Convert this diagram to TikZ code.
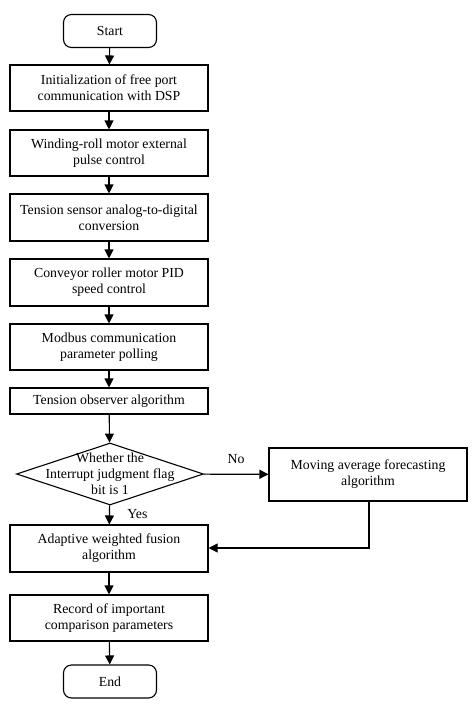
\documentclass[tikz,border=0pt]{standalone}
\usepackage{fontspec}
\setmainfont{Liberation Serif}
\usetikzlibrary{arrows.meta,shapes.geometric}

\tikzset{
    txt/.style={font=\fontsize{13.8}{16}\selectfont},
    procbox/.style={draw, line width=1.1pt, minimum width=198pt, align=center, inner sep=2pt, txt},
    termbox/.style={draw, line width=1.1pt, rounded corners=8pt, minimum width=93pt, minimum height=33pt, txt},
    decbox/.style={draw, line width=1.1pt, diamond, minimum width=187pt, minimum height=62pt, inner sep=0pt},
    flow/.style={line width=1.1pt, -{Triangle[length=9pt,width=9pt]}}
}

\begin{document}
\begin{tikzpicture}[x=1pt, y=-1pt]
        \useasboundingbox (0,0) rectangle (474,704);
        \node[termbox] (start) at (110,31) {Start};
        \node[procbox, minimum height=46pt] (init) at (109,88) {Initialization of free port\\communication with DSP};
        \node[procbox, minimum height=46pt] (wind) at (109,153) {Winding-roll motor external\\pulse control};
        \node[procbox, minimum height=47pt] (sens) at (109,217.5) {Tension sensor analog-to-digital\\conversion};
        \node[procbox, minimum height=47pt] (pid) at (109,282.5) {Conveyor roller motor PID\\speed control};
        \node[procbox, minimum height=46pt] (modb) at (109,347) {Modbus communication\\parameter polling};
        \node[procbox, minimum height=26pt] (obs) at (109,401) {Tension observer algorithm};
        \node[decbox] (flag) at (110,474) {};
        \node[txt, align=center, inner sep=0pt] (flagtxt) at (flag.center) {Whether the\\Interrupt judgment flag\\bit is 1};
        \node[procbox, minimum height=53pt] (mavg) at (368,474.5) {Moving average forecasting\\algorithm};
        \node[procbox, minimum height=47pt] (fuse) at (109,548.5) {Adaptive weighted fusion\\algorithm};
        \node[procbox, minimum height=46pt] (rec) at (109,618) {Record of important\\comparison parameters};
        \node[termbox] (end) at (110,681.5) {End};
        \coordinate (turn) at (369,548);
        % main chain
        \draw[flow] (start) -- (init);
        \draw[flow] (init) -- (wind);
        \draw[flow] (wind) -- (sens);
        \draw[flow] (sens) -- (pid);
        \draw[flow] (pid) -- (modb);
        \draw[flow] (modb) -- (obs);
        \draw[flow] (obs) -- (flag);
        \draw[flow] (flag) -- node[right, pos=0.45, txt, xshift=14pt] {Yes} (fuse);
        \draw[flow] (flag) -- node[above, pos=0.5, txt, yshift=7pt] {No} (mavg);
        \draw[flow] (mavg.south -| turn) -- (turn) -- (fuse.east |- turn);
        \draw[flow] (fuse) -- (rec);
        \draw[flow] (rec) -- (end);
    \end{tikzpicture}
\end{document}
